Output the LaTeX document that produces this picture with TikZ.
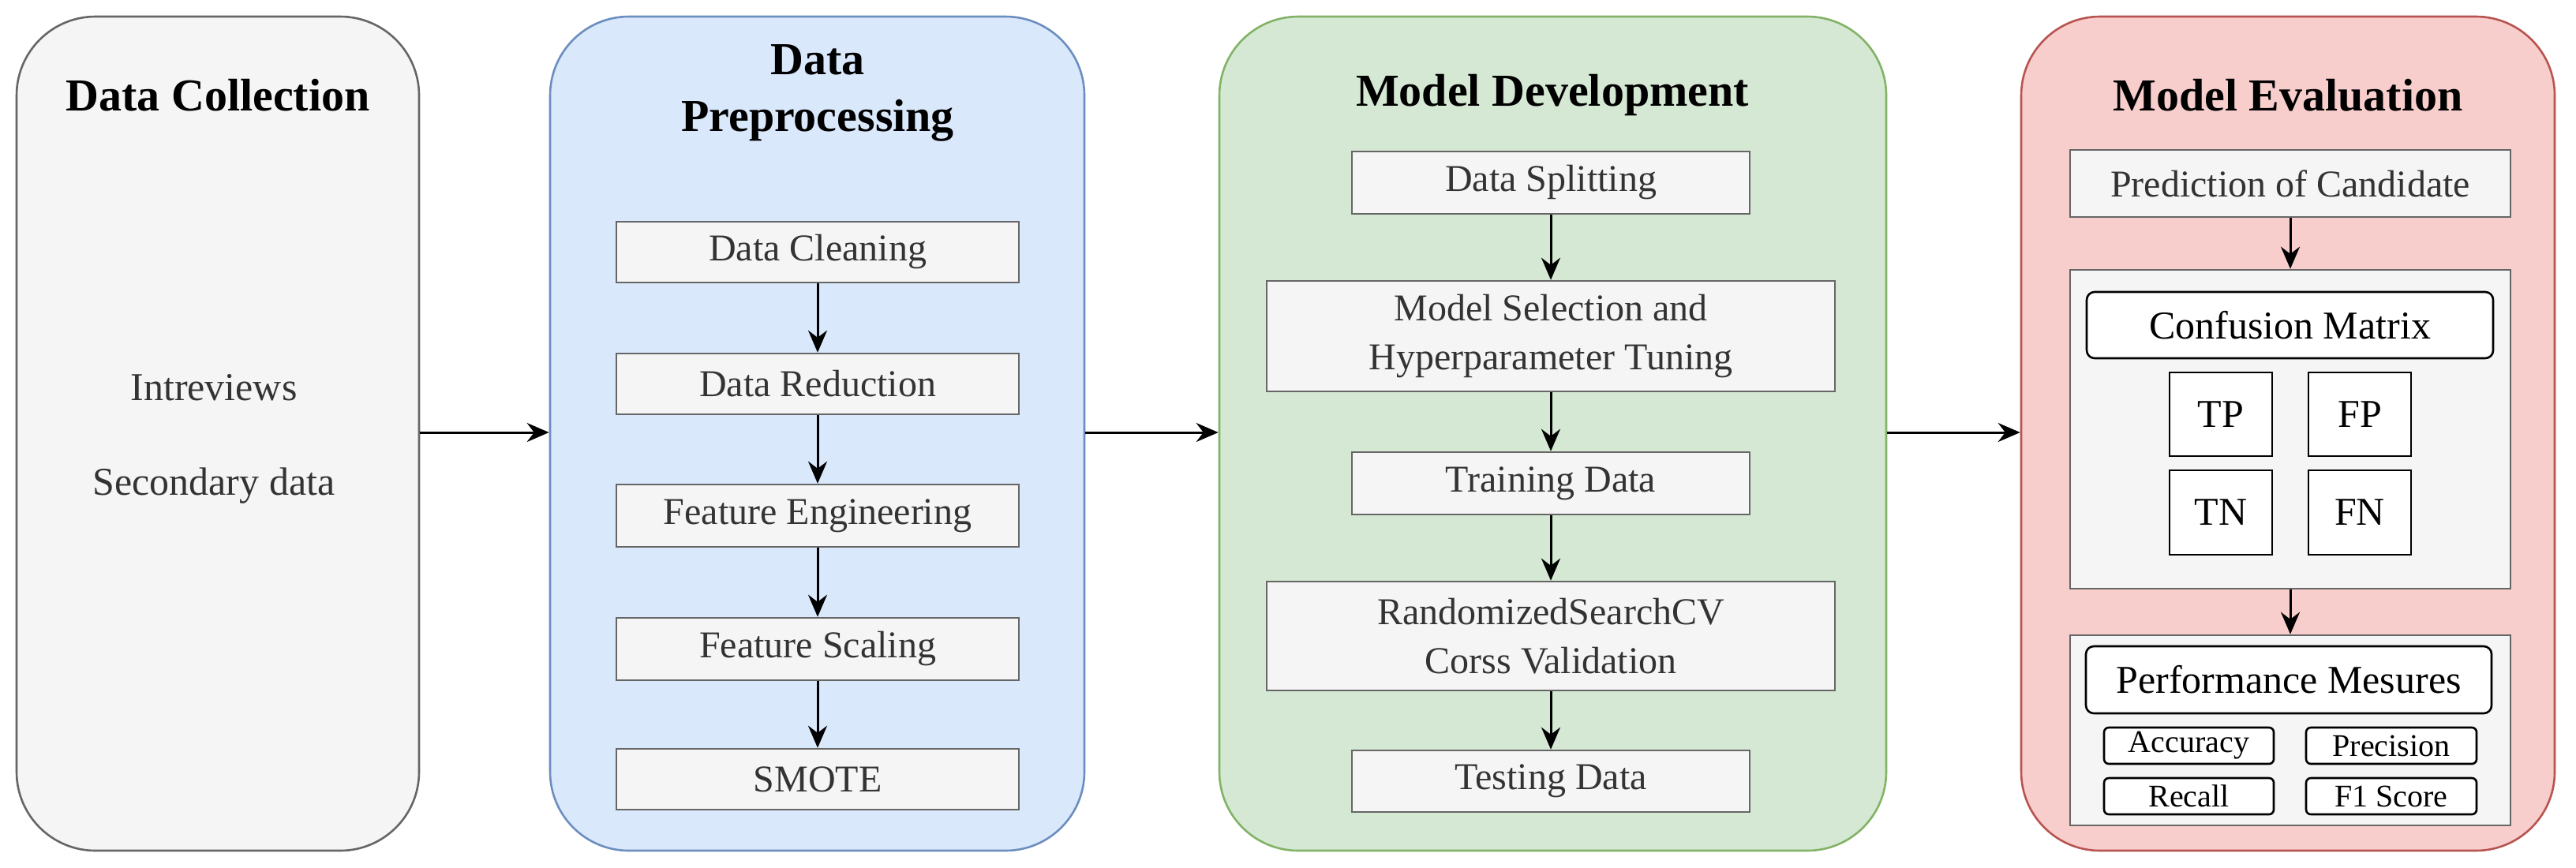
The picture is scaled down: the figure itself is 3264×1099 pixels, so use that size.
\documentclass[tikz,border=0pt]{standalone}
\usepackage{fontspec}
\setmainfont{Liberation Serif}
\usetikzlibrary{fit,arrows.meta}
\definecolor{g1}{HTML}{F5F5F5}\definecolor{g1s}{HTML}{666666}
\definecolor{b1}{HTML}{DAE8FC}\definecolor{b1s}{HTML}{6C8EBF}
\definecolor{gr1}{HTML}{D5E8D4}\definecolor{gr1s}{HTML}{82B366}
\definecolor{r1}{HTML}{F8CECC}\definecolor{r1s}{HTML}{B85450}
\definecolor{txt}{HTML}{333333}
\begin{document}
\begin{tikzpicture}[x=0.5pt,y=-0.5pt,
 panel/.style={draw=#1s,fill=#1,line width=1.3pt,rounded corners=50pt,inner sep=0pt},
 box/.style={draw=g1s,fill=g1,line width=1.3pt,inner sep=0pt},
 wbox/.style={draw=black,fill=white,line width=1.3pt,rounded corners=5pt,inner sep=0pt},
 sbox/.style={draw=black,fill=white,line width=1.3pt,rounded corners=3pt,inner sep=0pt},
 lt/.style={font=\fontsize{24}{29}\selectfont,text=txt,align=center},
 lb/.style={font=\fontsize{25}{30}\selectfont,align=center},
 lbig/.style={font=\fontsize{25}{30}\selectfont},
 ls/.style={font=\fontsize{20}{24}\selectfont},
 title/.style={font=\fontsize{29}{36}\selectfont\bfseries},
 arr/.style={-{Stealth[length=14pt,width=12pt]},line width=1.5pt}]
\useasboundingbox (0,0) rectangle (3264,1099);
% panels
\node[panel=g1,fit={(21,21)(531,1078)}] (p1) {};
\node[panel=b1,fit={(697,21)(1374,1078)}] (p2) {};
\node[panel=gr1,fit={(1545,21)(2390,1078)}] (p3) {};
\node[panel=r1,fit={(2561,21)(3237,1078)}] (p4) {};
% titles
\node[title] (t1) at (276,121) {Data Collection};
\node[title,align=center] (t2) at (1036,118) {Data\\Preprocessing};
\node[title] (t3) at (1967,121) {Model Development};
\node[title] (t4) at (2899,121) {Model Evaluation};
\node[lt,font=\fontsize{25}{30}\selectfont] (i1) at (271,491) {Intreviews};
\node[lt,font=\fontsize{25}{30}\selectfont] (i2) at (271,616) {Secondary data};
% panel 2
\node[box,fit={(781,281)(1291,358)}] (a1) {};
\node[box,fit={(781,448)(1291,525)}] (a2) {};
\node[box,fit={(781,614)(1291,693)}] (a3) {};
\node[box,fit={(781,783)(1291,862)}] (a4) {};
\node[box,fit={(781,949)(1291,1026)}] (a5) {};
\node[lt] at (a1) {Data Cleaning};
\node[lt] at (a2) {Data Reduction};
\node[lt] at (a3) {Feature Engineering};
\node[lt] at (a4) {Feature Scaling};
\node[lt] at (a5) {SMOTE};
\foreach \u/\v in {a1/a2,a2/a3,a3/a4,a4/a5} \draw[arr] (\u) -- (\v);
% panel 3
\node[box,fit={(1713,192)(2217,271)}] (b1) {};
\node[box,fit={(1605,356)(2325,496)}] (b2) {};
\node[box,fit={(1713,573)(2217,652)}] (b3) {};
\node[box,fit={(1605,737)(2325,875)}] (b4) {};
\node[box,fit={(1713,951)(2217,1029)}] (b5) {};
\node[lt] at (b1) {Data Splitting};
\node[lt,font=\fontsize{24}{31}\selectfont] at (b2) {Model Selection and\\Hyperparameter Tuning};
\node[lt] at (b3) {Training Data};
\node[lt,font=\fontsize{24}{31}\selectfont] at (b4) {RandomizedSearchCV\\Corss Validation};
\node[lt] at (b5) {Testing Data};
\foreach \u/\v in {b1/b2,b2/b3,b3/b4,b4/b5} \draw[arr] (\u) -- (\v);
% panel 4
\node[box,fit={(2623,190)(3181,275)}] (c1) {};
\node[lt] at (c1) {Prediction of Candidate};
\node[box,fit={(2623,342)(3181,746)}] (c2) {};
\node[wbox,fit={(2644,370)(3159,454)}] (cm) {};
\node[lb] at (cm) {Confusion Matrix};
\node[wbox,rounded corners=0pt,fit={(2749,472)(2879,578)}] (tp) {};
\node[wbox,rounded corners=0pt,fit={(2925,472)(3055,578)}] (fp) {};
\node[wbox,rounded corners=0pt,fit={(2749,596)(2879,703)}] (tn) {};
\node[wbox,rounded corners=0pt,fit={(2925,596)(3055,703)}] (fn) {};
\node[lbig] at (tp) {TP};
\node[lbig] at (fp) {FP};
\node[lbig] at (tn) {TN};
\node[lbig] at (fn) {FN};
\node[box,fit={(2623,805)(3181,1046)}] (c3) {};
\node[wbox,fit={(2643,819)(3157,904)}] (pm) {};
\node[lb] at (pm) {Performance Mesures};
\node[sbox,fit={(2666,922)(2881,968)}] (s1) {};
\node[sbox,fit={(2922,922)(3138,968)}] (s2) {};
\node[sbox,fit={(2666,986)(2881,1032)}] (s3) {};
\node[sbox,fit={(2922,986)(3138,1032)}] (s4) {};
\node[ls] at (s1) {Accuracy};
\node[ls] at (s2) {Precision};
\node[ls] at (s3) {Recall};
\node[ls] at (s4) {F1 Score};
\draw[arr] (c1) -- (c2);
\draw[arr] (c2) -- (c3);
% between panels
\draw[arr] (p1.east |- 0,548) -- (p2.west |- 0,548);
\draw[arr] (p2.east |- 0,548) -- (p3.west |- 0,548);
\draw[arr] (p3.east |- 0,548) -- (p4.west |- 0,548);
\end{tikzpicture}
\end{document}
